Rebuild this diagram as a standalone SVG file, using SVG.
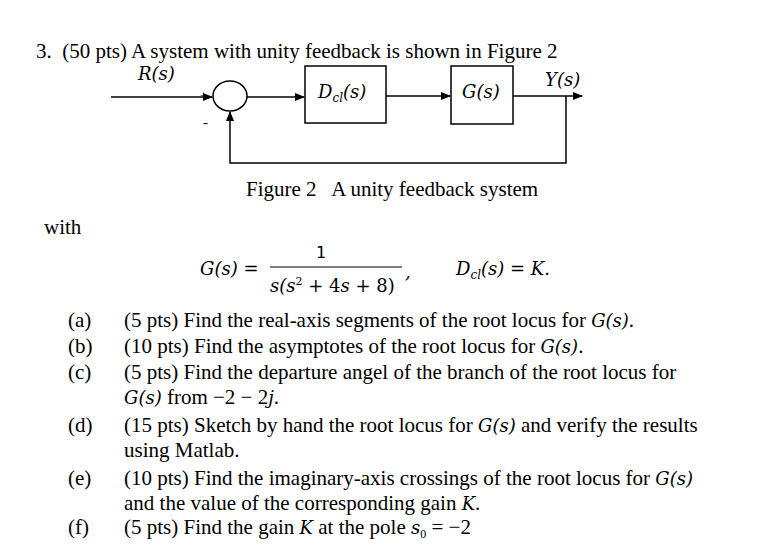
<svg xmlns="http://www.w3.org/2000/svg" width="757" height="553" viewBox="0 0 757 553">
<style>
text{font-family:"Liberation Serif",serif;font-size:21px;fill:#000}
.m{font-family:"DejaVu Serif","Liberation Serif",serif;font-style:italic;font-size:18px}
.ln{stroke:#000;stroke-width:1.5;fill:none}
</style>
<defs><marker id="a" markerWidth="10" markerHeight="8" refX="9" refY="4" orient="auto" markerUnits="userSpaceOnUse"><path d="M0,0L10,4L0,8z"/></marker></defs>
<rect width="757" height="553" fill="#fff"/>
<text x="36" y="58" xml:space="preserve">3.  (50 pts) A system with unity feedback is shown in Figure 2</text>
<g id="sum"><ellipse cx="230" cy="96" rx="17" ry="15" class="ln"/><text x="200" y="100" style="font-size:12px">+</text><text x="203" y="127" style="font-size:15px">-</text></g>
<g id="Dcl"><rect x="305" y="66" width="81" height="57" class="ln"/><text class="m" x="318" y="98">D<tspan font-size="12" dy="4">cl</tspan><tspan dy="-4">(s)</tspan></text></g>
<g id="G"><rect x="451" y="66" width="62" height="58" class="ln"/><text class="m" x="462" y="98">G(s)</text></g>
<text class="m" x="138" y="80">R(s)</text>
<text class="m" x="545" y="86">Y(s)</text>
<g id="connectors">
<line x1="111" y1="97" x2="212" y2="97" class="ln" marker-end="url(#a)"/>
<line x1="247" y1="97" x2="304" y2="97" class="ln" marker-end="url(#a)"/>
<line x1="386" y1="96" x2="450" y2="96" class="ln" marker-end="url(#a)"/>
<line x1="513" y1="96" x2="582" y2="96" class="ln" marker-end="url(#a)"/>
<polyline points="566,96 566,163 230,163 230,112" class="ln" marker-end="url(#a)"/>
</g>
<text x="246" y="196" xml:space="preserve">Figure 2   A unity feedback system</text>
<text x="44" y="234">with</text>
<text class="m" x="200" y="275">G(s) =</text>
<text x="316" y="258" style="font-family:'DejaVu Sans',sans-serif;font-size:16px">1</text>
<line x1="270" y1="267" x2="402" y2="267" stroke="#000" stroke-width="1.2"/>
<text class="m" x="270" y="292">s(s<tspan font-size="11" dy="-7" font-style="normal">2</tspan><tspan dy="7" font-style="normal"> + 4</tspan>s<tspan font-style="normal"> + 8)</tspan></text>
<text class="m" x="405" y="278">,</text>
<text class="m" x="456" y="275">D<tspan font-size="12" dy="4">cl</tspan><tspan dy="-4">(s) = K.</tspan></text>
<g>
<text x="68" y="327">(a)</text><text x="124" y="327">(5 pts) Find the real-axis segments of the root locus for <tspan class="m">G(s)</tspan>.</text>
<text x="68" y="353">(b)</text><text x="124" y="353">(10 pts) Find the asymptotes of the root locus for <tspan class="m">G(s)</tspan>.</text>
<text x="68" y="379">(c)</text><text x="124" y="379">(5 pts) Find the departure angel of the branch of the root locus for</text>
<text x="124" y="404"><tspan class="m">G(s)</tspan> from −2 − 2<tspan class="m">j</tspan>.</text>
<text x="68" y="432">(d)</text><text x="124" y="432">(15 pts) Sketch by hand the root locus for <tspan class="m">G(s)</tspan> and verify the results</text>
<text x="124" y="457">using Matlab.</text>
<text x="68" y="485">(e)</text><text x="124" y="485">(10 pts) Find the imaginary-axis crossings of the root locus for <tspan class="m">G(s)</tspan></text>
<text x="124" y="510">and the value of the corresponding gain <tspan class="m">K</tspan>.</text>
<text x="68" y="534">(f)</text><text x="124" y="534">(5 pts) Find the gain <tspan class="m">K</tspan> at the pole <tspan class="m">s</tspan><tspan font-size="12" dy="4">0</tspan><tspan dy="-4"> = −2</tspan></text>
</g>
</svg>
